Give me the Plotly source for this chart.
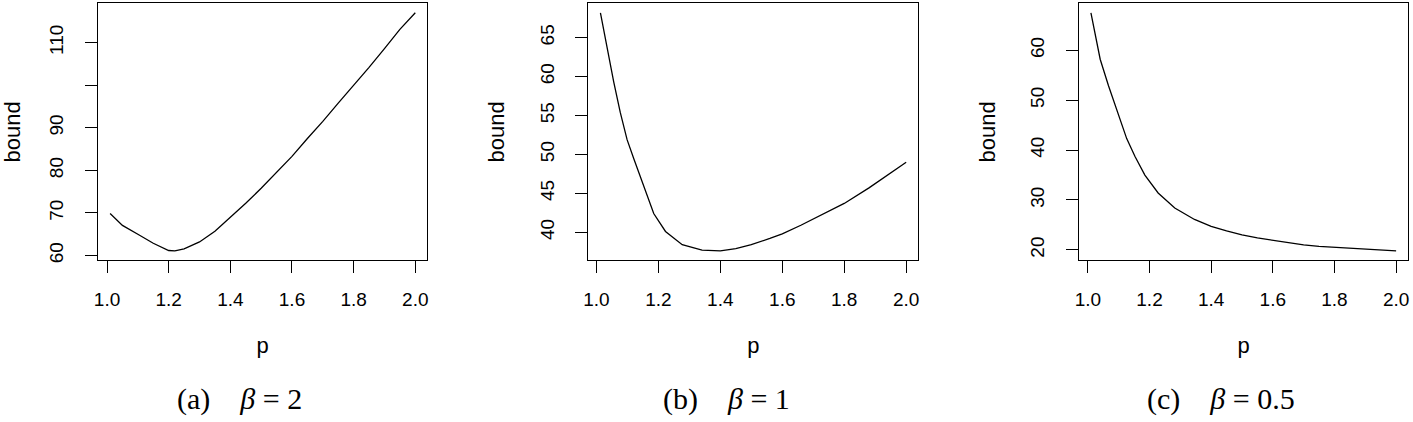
import plotly.graph_objects as go

# panel (a): beta = 2
p_a = [1.01, 1.05, 1.10, 1.15, 1.20, 1.22, 1.25, 1.30, 1.35, 1.40, 1.45,
       1.50, 1.55, 1.60, 1.65, 1.70, 1.75, 1.80, 1.85, 1.90, 1.95, 2.00]
bound_a = [69.9, 67.1, 65.0, 62.9, 61.2, 61.1, 61.6, 63.2, 65.7, 68.9, 72.3,
           75.8, 79.5, 83.3, 87.5, 91.5, 95.8, 99.9, 104.2, 108.6, 113.1, 117.0]

# panel (b): beta = 1
p_b = [1.013, 1.035, 1.056, 1.077, 1.099, 1.121, 1.147, 1.185, 1.223, 1.277, 1.341,
       1.40, 1.45, 1.50, 1.56, 1.60, 1.66, 1.72, 1.77, 1.80, 1.88, 1.94, 2.00]
bound_b = [68.2, 63.5, 59.3, 55.4, 51.9, 49.4, 46.5, 42.4, 40.1, 38.4, 37.7,
           37.6, 37.9, 38.4, 39.2, 39.8, 40.9, 42.1, 43.1, 43.7, 45.7, 47.4, 49.0]

# panel (c): beta = 0.5
p_c = [1.01, 1.025, 1.04, 1.067, 1.099, 1.126, 1.153, 1.185, 1.228, 1.282, 1.346,
       1.40, 1.45, 1.50, 1.55, 1.60, 1.65, 1.70, 1.75, 1.80, 1.85, 1.90, 1.95, 2.00]
bound_c = [67.5, 62.5, 58.2, 52.9, 46.9, 42.3, 38.7, 35.0, 31.4, 28.4, 26.1,
           24.7, 23.8, 23.0, 22.4, 21.9, 21.4, 21.0, 20.7, 20.5, 20.3, 20.1, 20.0, 19.8]

x_ticks = [1.0, 1.2, 1.4, 1.6, 1.8, 2.0]
y_ticks_a = [60, 70, 80, 90, 100, 110]
y_text_a = ['60', '70', '80', '90', '', '110']   # R drops the overlapping 100 label
y_ticks_b = [40, 45, 50, 55, 60, 65]
y_ticks_c = [20, 30, 40, 50, 60]
captions = ['(a)&nbsp;&nbsp;&nbsp;&nbsp;<i>β</i>&nbsp;=&nbsp;2',
            '(b)&nbsp;&nbsp;&nbsp;&nbsp;<i>β</i>&nbsp;=&nbsp;1',
            '(c)&nbsp;&nbsp;&nbsp;&nbsp;<i>β</i>&nbsp;=&nbsp;0.5']

W, H = 1413, 422
sans = 'Liberation Sans, Arial, sans-serif'
serif = 'Liberation Serif, Times New Roman, serif'

# plot boxes in pixels (left, right), shared top/bottom
boxes = [(93.3, 424.3), (585.7, 917.3), (1078.3, 1409.3)]
box_top, box_bot = 3.3, 262.3
caption_x = [235, 725, 1221]
caption_y = 402


def padded(v):
    # R style 4% range extension
    lo, hi = min(v), max(v)
    d = (hi - lo) * 0.04
    return [lo - d, hi + d]


fig = go.Figure()
panels = [(p_a, bound_a, y_ticks_a, y_text_a),
          (p_b, bound_b, y_ticks_b, [str(v) for v in y_ticks_b]),
          (p_c, bound_c, y_ticks_c, [str(v) for v in y_ticks_c])]

axis_style = dict(showline=True, linecolor='black', linewidth=1, mirror=True,
                  ticks='outside', ticklen=12, tickwidth=1, tickcolor='black',
                  showgrid=False, zeroline=False,
                  tickfont=dict(family=sans, size=19, color='black'))

for i, (px, py, yt, ytt) in enumerate(panels):
    n = '' if i == 0 else str(i + 1)
    fig.add_trace(go.Scatter(x=px, y=py, mode='lines', line=dict(color='black', width=1.3),
                             xaxis='x' + n, yaxis='y' + n, showlegend=False))
    l, r = boxes[i]
    fig.layout['xaxis' + n] = dict(domain=[l / W, r / W], anchor='y' + n,
                                   range=padded(px), tickvals=x_ticks,
                                   ticktext=['%.1f' % v for v in x_ticks],
                                   ticklabelstandoff=10,
                                   title=dict(text='p', standoff=28,
                                              font=dict(family=sans, size=22, color='black')),
                                   **axis_style)
    fig.layout['yaxis' + n] = dict(domain=[1 - box_bot / H, 1 - box_top / H],
                                   anchor='x' + n,
                                   range=padded(py), tickvals=yt, ticktext=ytt,
                                   tickangle=-90, ticklabelstandoff=14,
                                   title=dict(text='bound', standoff=25,
                                              font=dict(family=sans, size=22, color='black')),
                                   **axis_style)
    fig.add_annotation(text=captions[i], xref='paper', yref='paper',
                       x=caption_x[i] / W, y=1 - caption_y / H, showarrow=False,
                       xanchor='center', yanchor='middle',
                       font=dict(family=serif, size=30, color='black'))

fig.update_layout(width=W, height=H, margin=dict(l=0, r=0, t=0, b=0),
                  plot_bgcolor='white', paper_bgcolor='white')

# drop the default 8px page margin so the figure sits at the window corner
fig.write_html('out.html', config={'displayModeBar': False},
               post_script="document.body.style.margin='0px';")
